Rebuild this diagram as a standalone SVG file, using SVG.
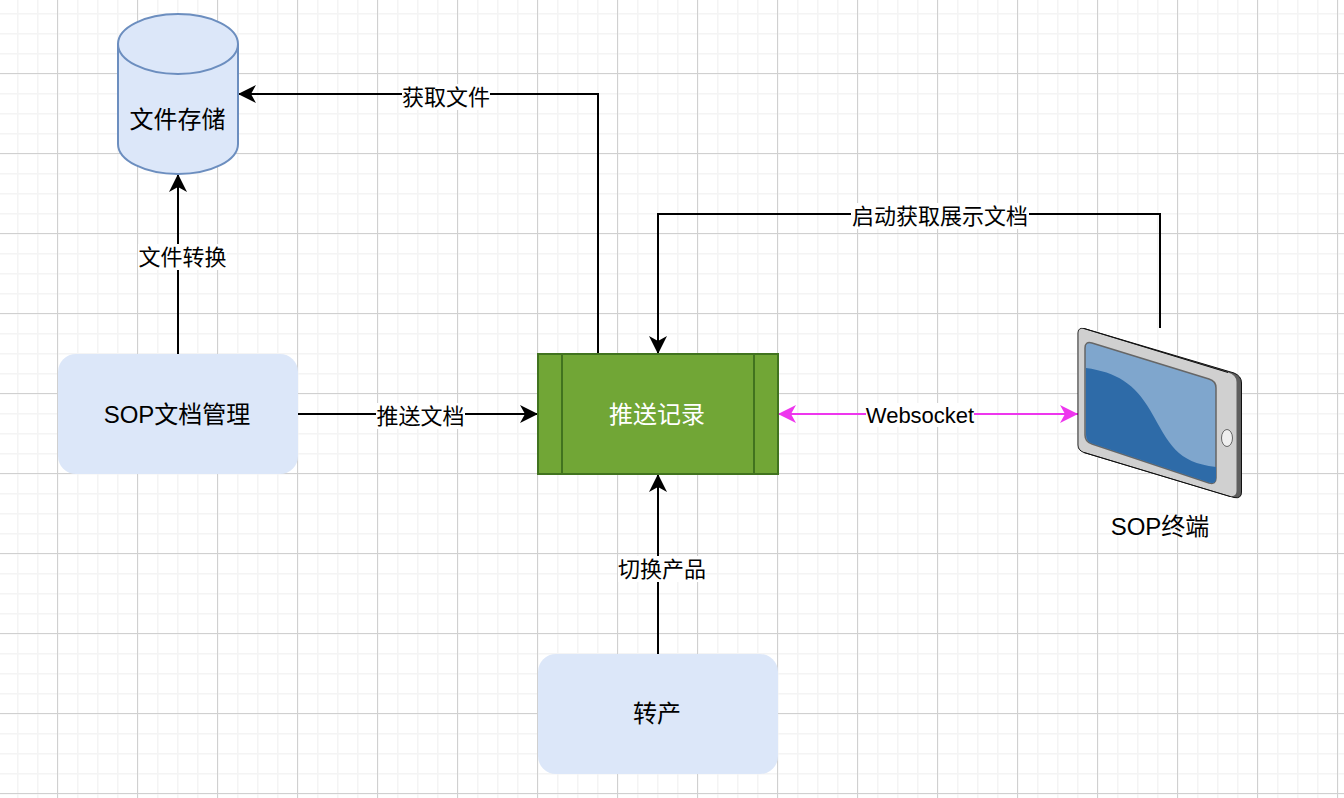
<svg xmlns="http://www.w3.org/2000/svg" width="1344" height="798" viewBox="0 0 1344 798">
<style>
text{font-family:"Liberation Sans","Noto Sans CJK SC",sans-serif;text-anchor:middle;dominant-baseline:central;fill:#000}
.n{font-size:24px}
.l{font-size:22px}
.c{fill:none;stroke:#000;stroke-width:2}
.m{fill:none;stroke:#ee36ee;stroke-width:2}
.bg{fill:#fff}
.soft{fill:#dce7f9}
</style>
<defs>
<pattern id="minor" width="20" height="20" patternUnits="userSpaceOnUse" x="17" y="13">
<path d="M0.5 0V20M0 0.5H20" stroke="#f4f4f4" stroke-width="2" fill="none"/>
</pattern>
<pattern id="major" width="80" height="80" patternUnits="userSpaceOnUse" x="57" y="73">
<path d="M0.5 0V80M0 0.5H80" stroke="#d0d0d0" stroke-width="1" fill="none"/>
</pattern>
<marker id="a" markerUnits="userSpaceOnUse" markerWidth="20" markerHeight="20" refX="18" refY="9" orient="auto-start-reverse" viewBox="0 0 20 18">
<path d="M18 9L0 0L5 9L0 18Z" fill="#000"/>
</marker>
<marker id="p" markerUnits="userSpaceOnUse" markerWidth="20" markerHeight="20" refX="18" refY="9" orient="auto-start-reverse" viewBox="0 0 20 18">
<path d="M18 9L0 0L5 9L0 18Z" fill="#ee36ee"/>
</marker>
</defs>
<rect width="1344" height="798" fill="#fff"/>
<rect width="1344" height="798" fill="url(#minor)"/>
<rect width="1344" height="798" fill="url(#major)"/>
<g id="connectors">
<path class="c" marker-end="url(#a)" d="M178 354V174"/>
<path class="c" marker-end="url(#a)" d="M598 354V94H238"/>
<path class="c" marker-end="url(#a)" d="M1160 328V214H658V354"/>
<path class="c" marker-end="url(#a)" d="M298 414H538"/>
<path class="c" marker-end="url(#a)" d="M658 654V474"/>
<path class="m" marker-start="url(#p)" marker-end="url(#p)" d="M778 414H1078"/>
<g id="connector-labels">
<rect class="bg" x="138" y="244" width="89" height="26"/><text class="l" x="182.500" y="257">文件转换</text>
<rect class="bg" x="402" y="84" width="88" height="26"/><text class="l" x="446" y="97">获取文件</text>
<rect class="bg" x="851" y="203" width="178" height="26"/><text class="l" x="940" y="216">启动获取展示文档</text>
<rect class="bg" x="376" y="403" width="89" height="26"/><text class="l" x="420.500" y="416">推送文档</text>
<rect class="bg" x="618" y="556" width="88" height="26"/><text class="l" x="662" y="569">切换产品</text>
<rect class="bg" x="866" y="403" width="108" height="24"/><text class="l" x="920" y="415">Websocket</text>
</g>
</g>
<g id="file-storage">
<path d="M118 44C118 27.400 145 14 178 14S238 27.400 238 44V144C238 160.600 211 174 178 174S118 160.600 118 144Z" fill="#dce7f9" stroke="#6c8ebf" stroke-width="2"/>
<path d="M118 44C118 60.600 145 74 178 74S238 60.600 238 44" fill="none" stroke="#6c8ebf" stroke-width="2"/>
<text class="n" x="177.500" y="119">文件存储</text>
</g>
<g id="sop-doc">
<rect class="soft" x="58" y="354" width="240" height="120" rx="18"/>
<text class="n" x="177" y="414">SOP文档管理</text>
</g>
<g id="push-record">
<rect x="538" y="354" width="240" height="120" fill="#71a636" stroke="#41731f" stroke-width="2"/>
<path d="M562 354V474M754 354V474" stroke="#41731f" stroke-width="2" fill="none"/>
<text class="n" x="657" y="414" style="fill:#fff">推送记录</text>
</g>
<g id="transfer">
<rect class="soft" x="538" y="654" width="240" height="120" rx="18"/>
<text class="n" x="657" y="713">转产</text>
</g>
<g id="sop-terminal">
<path d="M1084 328.500L1234 373Q1241.500 376 1241.500 383V492Q1241.500 499 1234 497.500L1084 452.500Q1078 450.500 1078 445V333Q1078 327.500 1084 328.500Z" fill="#5e5e5e" stroke="#111" stroke-width="1"/>
<path d="M1084 329L1228 372.500Q1236.500 375 1236.500 382V491Q1236.500 497 1230 496L1084 452Q1078.500 450 1078.500 445V333Q1078.500 328 1084 329Z" fill="#d0d0d0"/>
<path d="M1084 328.500L1228 372.500M1084 452.500L1230 496.500" fill="none" stroke="#111" stroke-width="1"/>
<path d="M1092 343L1209 379Q1216 381 1216 388V478Q1216 485 1209 483L1092 444Q1085 442 1085 435V348Q1085 341 1092 343Z" fill="#7fa6cd" stroke="#666" stroke-width="1.500"/>
<path d="M1086 368C1116 372 1135 384 1150 410C1170 445 1176 462 1216 467V478Q1216 484.500 1209 482.500L1092 443.500Q1086 441.500 1086 435Z" fill="#2e6ba8"/>
<ellipse cx="1227" cy="438" rx="5.500" ry="8.500" fill="#efefef" stroke="#666" stroke-width="1"/>
<text class="n" x="1160" y="526">SOP终端</text>
</g>
</svg>
